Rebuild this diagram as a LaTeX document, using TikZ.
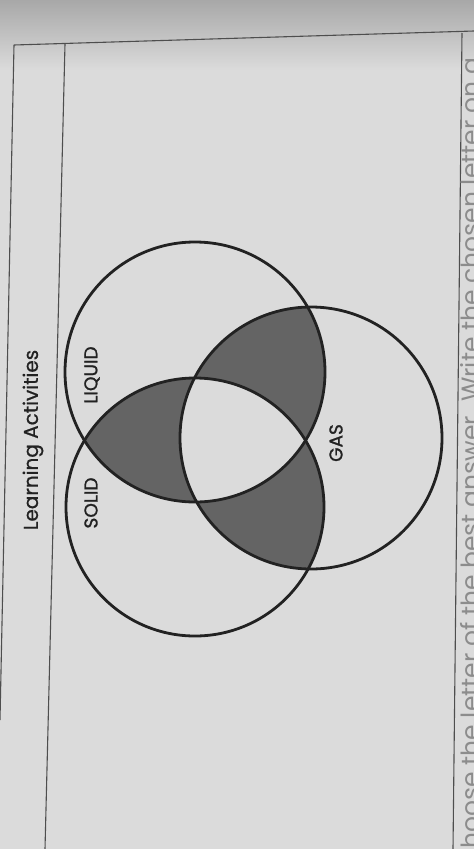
\documentclass[tikz,border=0pt]{standalone}
\usepackage{fontspec}
\setmainfont{Poppins}
\newfontfamily\lblfont[FakeBold=1.2]{Poppins}
\newfontfamily\ttlfont[FakeBold=0.8]{Poppins}
\definecolor{paper}{HTML}{DBDBDB}
\definecolor{topband}{HTML}{A8A8A8}
\definecolor{ink}{HTML}{222222}
\definecolor{shadefill}{HTML}{646464}
\definecolor{faint}{HTML}{8C8C8C}
\begin{document}
\begin{tikzpicture}[x=1pt,y=-1pt,
  ring/.style={draw=ink, line width=2.8pt},
  frameline/.style={draw=ink!80, line width=1.1pt},
  lbl/.style={rotate=90, font=\lblfont\fontsize{18.5}{18.5}\selectfont, text=ink, inner sep=0pt},
  ttl/.style={rotate=90, font=\ttlfont\fontsize{20}{20}\selectfont, text=ink, inner sep=0pt},
  note/.style={rotate=90, font=\fontsize{25}{25}\selectfont, text=faint, inner sep=0pt}]
\useasboundingbox (0,0) rectangle (474,849);
\fill[paper] (0,0) rectangle (474,849);
\shade[top color=topband, bottom color=paper] (0,0) rectangle (474,70);
% frame
\coordinate (tl) at (14,45);
\coordinate (tr) at (474,31);
\coordinate (bl) at (0,720);
\coordinate (itop) at (65,44);
\coordinate (ibot) at (45,849);
\coordinate (rtop) at (462,33);
\coordinate (rbot) at (453,849);
\draw[frameline] (tl) -- (tr);
\draw[frameline] (tl) -- (bl);
\draw[frameline] (itop) -- (ibot);
\draw[frameline] (rtop) -- (rbot);
% circles
\coordinate (cL) at (195,372);
\coordinate (cS) at (195,507);
\coordinate (cG) at (311,438);
\begin{scope}
  \clip (cL) circle[radius=130];
  \fill[shadefill, even odd rule] (cS) circle[radius=129] (cG) circle[radius=131];
\end{scope}
\begin{scope}
  \clip (cS) circle[radius=129];
  \clip (cG) circle[radius=131];
  \fill[shadefill, even odd rule] (0,0) rectangle (474,849) (cL) circle[radius=130];
\end{scope}
\draw[ring] (cL) circle[radius=130];
\draw[ring] (cS) circle[radius=129];
\draw[ring] (cG) circle[radius=131];
% labels
\node[lbl] (solid) at (91,503) {SOLID};
\node[lbl] (liquid) at (92,375) {LIQUID};
\node[lbl] (gas) at (336,443) {GAS};
\node[ttl] (title) at (33,440) {Learning Activities};
\node[note, anchor=base west] (instr) at (479,868) {Choose the letter of the best answer. Write the chosen letter on a};
\end{tikzpicture}
\end{document}
